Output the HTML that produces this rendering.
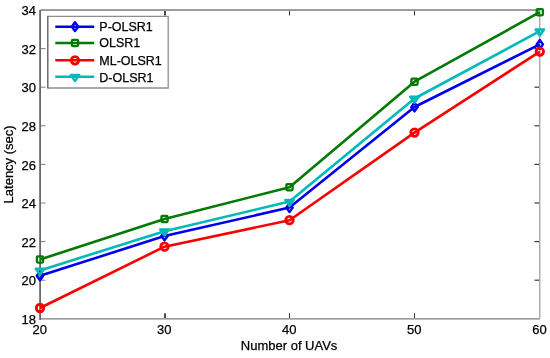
<!DOCTYPE html>
<html><head><meta charset="utf-8"><style>
html,body{margin:0;padding:0;background:#fff;}
svg{display:block;}
text{font-family:"Liberation Sans",Arial,sans-serif;font-size:13px;fill:#000;stroke:#000;stroke-width:0.25px;}
text.lg{font-size:12.5px;}
</style></head><body>
<svg width="550" height="358" viewBox="0 0 550 358">
<rect x="39" y="10" width="1" height="310" fill="#858585"/>
<rect x="40" y="9.6" width="1" height="310.4" fill="#6a6a6a"/>
<rect x="41" y="9" width="499" height="1" fill="#a0a0a0"/>
<rect x="41" y="10" width="499" height="1" fill="#989898"/>
<rect x="41" y="318" width="499" height="1" fill="#9c9c9c"/>
<rect x="41" y="319" width="499" height="1" fill="#c0c0c0"/>
<rect x="539" y="11" width="1" height="307" fill="#a8a8a8"/>
<rect x="540" y="11" width="1" height="307" fill="#dadada"/>
<rect x="164" y="313.3" width="2" height="4.7" fill="#4a4a4a"/>
<rect x="164" y="11" width="2" height="4.5" fill="#4a4a4a"/>
<rect x="289" y="313.3" width="1" height="4.7" fill="#333"/>
<rect x="289" y="11" width="1" height="4.5" fill="#333"/>
<rect x="414" y="313.3" width="1" height="4.7" fill="#333"/>
<rect x="414" y="11" width="1" height="4.5" fill="#333"/>
<path d="M41 280.20H45.5" stroke="#8a8a8a" stroke-width="1.1"/>
<path d="M534.5 280.20H539" stroke="#3a3a3a" stroke-width="1.2"/>
<path d="M41 241.60H45.5" stroke="#8a8a8a" stroke-width="1.1"/>
<path d="M534.5 241.60H539" stroke="#3a3a3a" stroke-width="1.2"/>
<path d="M41 203.00H45.5" stroke="#8a8a8a" stroke-width="1.1"/>
<path d="M534.5 203.00H539" stroke="#3a3a3a" stroke-width="1.2"/>
<path d="M41 164.40H45.5" stroke="#8a8a8a" stroke-width="1.1"/>
<path d="M534.5 164.40H539" stroke="#3a3a3a" stroke-width="1.2"/>
<path d="M41 125.80H45.5" stroke="#8a8a8a" stroke-width="1.1"/>
<path d="M534.5 125.80H539" stroke="#3a3a3a" stroke-width="1.2"/>
<path d="M41 87.20H45.5" stroke="#8a8a8a" stroke-width="1.1"/>
<path d="M534.5 87.20H539" stroke="#3a3a3a" stroke-width="1.2"/>
<path d="M41 48.60H45.5" stroke="#8a8a8a" stroke-width="1.1"/>
<path d="M534.5 48.60H539" stroke="#3a3a3a" stroke-width="1.2"/>
<polyline points="40.00,275.80 164.50,236.00 289.50,207.60 414.50,107.00 539.80,44.40" fill="none" stroke="#0000ea" stroke-width="2.6" stroke-linejoin="round"/>
<path d="M40.00 271.40L43.20 275.80L40.00 280.20L36.80 275.80Z" fill="none" stroke="#0000ea" stroke-width="2.4" stroke-linejoin="round"/>
<path d="M164.50 231.60L167.70 236.00L164.50 240.40L161.30 236.00Z" fill="none" stroke="#0000ea" stroke-width="2.4" stroke-linejoin="round"/>
<path d="M289.50 203.20L292.70 207.60L289.50 212.00L286.30 207.60Z" fill="none" stroke="#0000ea" stroke-width="2.4" stroke-linejoin="round"/>
<path d="M414.50 102.60L417.70 107.00L414.50 111.40L411.30 107.00Z" fill="none" stroke="#0000ea" stroke-width="2.4" stroke-linejoin="round"/>
<path d="M539.80 40.00L543.00 44.40L539.80 48.80L536.60 44.40Z" fill="none" stroke="#0000ea" stroke-width="2.4" stroke-linejoin="round"/>
<polyline points="40.00,259.50 164.50,219.00 289.50,187.20 414.50,81.70 539.80,12.20" fill="none" stroke="#007a00" stroke-width="2.6" stroke-linejoin="round"/>
<rect x="36.90" y="256.40" width="6.20" height="6.20" rx="1" fill="none" stroke="#007a00" stroke-width="2.3"/>
<rect x="161.40" y="215.90" width="6.20" height="6.20" rx="1" fill="none" stroke="#007a00" stroke-width="2.3"/>
<rect x="286.40" y="184.10" width="6.20" height="6.20" rx="1" fill="none" stroke="#007a00" stroke-width="2.3"/>
<rect x="411.40" y="78.60" width="6.20" height="6.20" rx="1" fill="none" stroke="#007a00" stroke-width="2.3"/>
<rect x="536.70" y="9.10" width="6.20" height="6.20" rx="1" fill="none" stroke="#007a00" stroke-width="2.3"/>
<polyline points="40.00,308.00 164.50,246.70 289.50,220.20 414.50,132.60 539.80,51.60" fill="none" stroke="#f80000" stroke-width="2.6" stroke-linejoin="round"/>
<circle cx="40.00" cy="308.00" r="3.75" fill="none" stroke="#f80000" stroke-width="2.8"/>
<circle cx="164.50" cy="246.70" r="3.75" fill="none" stroke="#f80000" stroke-width="2.8"/>
<circle cx="289.50" cy="220.20" r="3.75" fill="none" stroke="#f80000" stroke-width="2.8"/>
<circle cx="414.50" cy="132.60" r="3.75" fill="none" stroke="#f80000" stroke-width="2.8"/>
<circle cx="539.80" cy="51.60" r="3.75" fill="none" stroke="#f80000" stroke-width="2.8"/>
<polyline points="40.00,270.40 164.50,231.20 289.50,201.60 414.50,98.50 539.80,31.20" fill="none" stroke="#00b9b9" stroke-width="2.6" stroke-linejoin="round"/>
<path d="M35.80 268.70L44.20 268.70L40.00 274.70Z" fill="none" stroke="#00b9b9" stroke-width="2.5" stroke-linejoin="round"/>
<path d="M160.30 229.50L168.70 229.50L164.50 235.50Z" fill="none" stroke="#00b9b9" stroke-width="2.5" stroke-linejoin="round"/>
<path d="M285.30 199.90L293.70 199.90L289.50 205.90Z" fill="none" stroke="#00b9b9" stroke-width="2.5" stroke-linejoin="round"/>
<path d="M410.30 96.80L418.70 96.80L414.50 102.80Z" fill="none" stroke="#00b9b9" stroke-width="2.5" stroke-linejoin="round"/>
<path d="M535.60 29.50L544.00 29.50L539.80 35.50Z" fill="none" stroke="#00b9b9" stroke-width="2.5" stroke-linejoin="round"/>
<text x="36" y="323.90" text-anchor="end">18</text>
<text x="36" y="285.30" text-anchor="end">20</text>
<text x="36" y="246.70" text-anchor="end">22</text>
<text x="36" y="208.10" text-anchor="end">24</text>
<text x="36" y="169.50" text-anchor="end">26</text>
<text x="36" y="130.90" text-anchor="end">28</text>
<text x="36" y="92.30" text-anchor="end">30</text>
<text x="36" y="53.70" text-anchor="end">32</text>
<text x="36" y="15.10" text-anchor="end">34</text>
<text x="39.80" y="333.9" text-anchor="middle">20</text>
<text x="164.30" y="333.9" text-anchor="middle">30</text>
<text x="289.30" y="333.9" text-anchor="middle">40</text>
<text x="414.30" y="333.9" text-anchor="middle">50</text>
<text x="539.60" y="333.9" text-anchor="middle">60</text>
<text x="289.1" y="349.9" text-anchor="middle">Number of UAVs</text>
<text transform="translate(13.1 164.4) rotate(-90)" text-anchor="middle">Latency (sec)</text>
<rect x="47.8" y="16.4" width="120.39999999999999" height="71.6" fill="#fff"/>
<path d="M47.8 16.4H168.2V88.0H47.8" fill="none" stroke="#8e8e8e" stroke-width="1.3"/>
<path d="M47.8 15.799999999999999V88.6" fill="none" stroke="#606060" stroke-width="1.4"/>
<path d="M55.3 26.7H94.2" stroke="#0000ea" stroke-width="2.6"/>
<path d="M75.00 22.30L78.20 26.70L75.00 31.10L71.80 26.70Z" fill="none" stroke="#0000ea" stroke-width="2.4" stroke-linejoin="round"/>
<text class="lg" x="99.3" y="31.10">P-OLSR1</text>
<path d="M55.3 43.0H94.2" stroke="#007a00" stroke-width="2.6"/>
<rect x="71.90" y="39.90" width="6.20" height="6.20" rx="1" fill="none" stroke="#007a00" stroke-width="2.3"/>
<text class="lg" x="99.3" y="47.40">OLSR1</text>
<path d="M55.3 60.3H94.2" stroke="#f80000" stroke-width="2.6"/>
<circle cx="75.00" cy="60.30" r="3.75" fill="none" stroke="#f80000" stroke-width="2.8"/>
<text class="lg" x="99.3" y="64.70">ML-OLSR1</text>
<path d="M55.3 76.8H94.2" stroke="#00b9b9" stroke-width="2.6"/>
<path d="M70.80 75.10L79.20 75.10L75.00 81.10Z" fill="none" stroke="#00b9b9" stroke-width="2.5" stroke-linejoin="round"/>
<text class="lg" x="99.3" y="81.50">D-OLSR1</text>
</svg>
</body></html>
